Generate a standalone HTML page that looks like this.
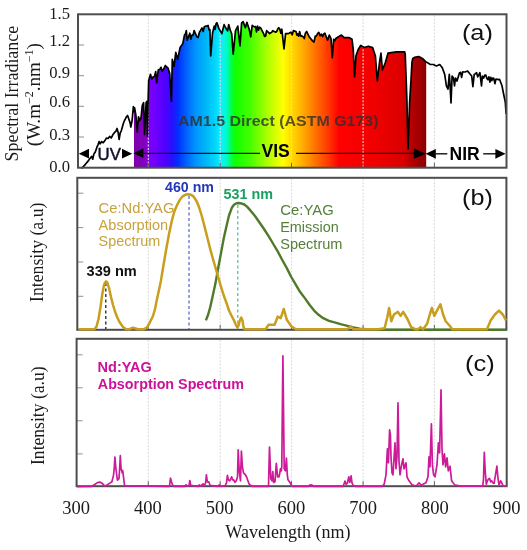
<!DOCTYPE html>
<html><head><meta charset="utf-8"><title>Solar spectrum and YAG spectra</title>
<style>html,body{margin:0;padding:0;background:#fff;overflow:hidden}svg{display:block}</style>
</head><body>
<svg width="527" height="550" viewBox="0 0 527 550">
<defs><linearGradient id="rb" gradientUnits="userSpaceOnUse" x1="134.0" y1="0" x2="426.2" y2="0"><stop offset="0.0000" stop-color="#7e00a8"/><stop offset="0.0428" stop-color="#8200c8"/><stop offset="0.0513" stop-color="#8000fa"/><stop offset="0.0787" stop-color="#6a00ff"/><stop offset="0.1061" stop-color="#5000ff"/><stop offset="0.1300" stop-color="#2810ff"/><stop offset="0.1506" stop-color="#0030ff"/><stop offset="0.1780" stop-color="#0060ff"/><stop offset="0.2122" stop-color="#0096ff"/><stop offset="0.2464" stop-color="#00b6f8"/><stop offset="0.2772" stop-color="#00d6fa"/><stop offset="0.2977" stop-color="#12eeff"/><stop offset="0.3159" stop-color="#00fad0"/><stop offset="0.3296" stop-color="#00ff60"/><stop offset="0.3457" stop-color="#10ff00"/><stop offset="0.3593" stop-color="#1cff00"/><stop offset="0.3970" stop-color="#44ff00"/><stop offset="0.4586" stop-color="#b0ff00"/><stop offset="0.5099" stop-color="#ffff00"/><stop offset="0.5681" stop-color="#ffb800"/><stop offset="0.6297" stop-color="#ff6600"/><stop offset="0.6708" stop-color="#ff3000"/><stop offset="0.7016" stop-color="#ff0000"/><stop offset="0.8248" stop-color="#f00000"/><stop offset="0.9240" stop-color="#da0000"/><stop offset="0.9480" stop-color="#b80000"/><stop offset="1.0000" stop-color="#8c0000"/></linearGradient></defs>
<rect width="527" height="550" fill="#fff"/>
<path d="M134.0,168.0 L134.0,111.7 L134.6,107.8 L135.9,115.5 L137.2,132.0 L138.5,116.8 L139.7,120.6 L141.0,118.0 L142.3,105.3 L143.6,102.7 L144.5,134.6 L145.5,115.5 L146.1,102.7 L146.8,101.5 L147.4,135.9 L148.0,105.0 L148.7,80.4 L150.5,74.3 L151.8,79.1 L153.1,76.9 L154.4,76.6 L155.7,71.6 L156.6,83.0 L158.3,69.9 L159.7,69.5 L161.0,67.3 L162.0,71.4 L163.0,70.0 L164.2,67.8 L165.3,65.5 L166.7,66.8 L168.0,68.1 L169.7,73.4 L171.4,101.3 L172.3,59.4 L174.0,66.4 L175.8,52.4 L177.6,59.4 L180.2,47.2 L181.5,45.5 L182.8,43.7 L184.5,35.0 L185.4,34.0 L186.3,30.6 L187.2,40.2 L189.8,33.2 L190.9,39.1 L192.0,35.0 L193.1,35.3 L194.1,30.6 L196.8,36.7 L198.1,37.6 L199.4,32.3 L200.7,30.1 L202.0,28.0 L203.2,31.4 L204.3,26.8 L205.5,26.2 L206.8,26.2 L208.1,25.4 L209.0,29.8 L209.9,29.7 L210.7,55.9 L212.5,33.2 L214.2,26.2 L215.1,29.4 L216.0,23.8 L216.9,22.7 L217.9,25.5 L218.8,28.4 L219.8,30.1 L220.8,31.9 L221.8,33.7 L224.1,24.6 L225.2,26.8 L226.4,29.0 L227.6,30.8 L228.7,24.6 L230.2,30.0 L231.7,33.7 L233.2,54.2 L235.5,30.7 L236.7,28.4 L237.8,26.1 L240.0,45.9 L241.6,23.1 L243.1,21.6 L245.4,27.7 L246.9,22.3 L249.2,29.2 L250.7,36.8 L252.2,25.4 L253.3,26.1 L254.5,26.9 L255.5,26.6 L256.5,31.8 L257.5,26.1 L258.5,30.1 L259.5,27.2 L260.5,27.7 L263.6,33.7 L264.6,36.4 L265.6,36.0 L266.6,30.7 L267.6,31.7 L268.6,32.7 L269.6,33.7 L270.6,32.7 L271.7,32.4 L272.7,30.7 L273.7,31.2 L274.7,31.7 L275.7,32.2 L276.7,31.6 L277.7,29.2 L278.7,27.7 L279.7,28.8 L280.8,33.2 L281.8,29.2 L284.0,48.9 L285.6,33.7 L286.8,33.7 L288.0,33.7 L289.0,33.2 L289.9,32.7 L290.9,32.2 L292.2,34.8 L293.5,30.6 L294.8,31.1 L296.0,31.5 L296.9,35.1 L297.8,33.9 L298.7,36.2 L299.6,31.5 L300.8,36.1 L301.9,35.9 L303.1,36.7 L304.3,38.5 L305.4,33.2 L306.6,31.5 L307.9,34.1 L309.2,36.7 L310.4,38.2 L311.5,39.6 L312.7,41.1 L314.0,42.0 L315.3,36.0 L316.5,35.8 L317.6,33.5 L318.8,32.3 L320.1,35.8 L321.4,34.1 L322.6,36.6 L323.7,34.0 L324.9,33.2 L327.6,40.2 L329.3,35.0 L331.0,38.5 L332.3,57.7 L333.7,39.3 L334.9,40.7 L336.0,38.2 L337.2,37.6 L341.5,35.0 L344.1,37.6 L349.4,37.6 L352.0,39.3 L353.2,48.9 L354.6,76.9 L356.0,55.9 L358.1,49.8 L360.7,45.4 L364.2,47.5 L368.4,46.2 L372.6,47.6 L375.4,56.0 L377.3,81.1 L379.6,61.6 L381.0,53.2 L382.4,70.0 L385.2,63.0 L388.0,53.2 L396.4,51.8 L404.6,51.8 L405.2,54.0 L406.0,75.0 L406.9,100.0 L407.6,130.0 L408.1,149.0 L408.7,130.0 L409.6,103.0 L411.0,80.0 L412.0,62.0 L412.8,58.5 L414.5,57.4 L418.7,56.5 L422.9,58.8 L425.7,61.6 L426.2,61.9 L426.2,168.0 Z" fill="url(#rb)"/>
<line x1="148.3" y1="15.3" x2="148.3" y2="166.7" stroke="#dcdcdc" stroke-width="1.1" stroke-dasharray="2,1.4"/>
<line x1="148.3" y1="162.7" x2="148.3" y2="167.7" stroke="#666" stroke-width="1"/>
<line x1="220.2" y1="15.3" x2="220.2" y2="166.7" stroke="#dcdcdc" stroke-width="1.1" stroke-dasharray="2,1.4"/>
<line x1="220.2" y1="162.7" x2="220.2" y2="167.7" stroke="#666" stroke-width="1"/>
<line x1="291.5" y1="15.3" x2="291.5" y2="166.7" stroke="#dcdcdc" stroke-width="1.1" stroke-dasharray="2,1.4"/>
<line x1="291.5" y1="162.7" x2="291.5" y2="167.7" stroke="#666" stroke-width="1"/>
<line x1="363.1" y1="15.3" x2="363.1" y2="166.7" stroke="#dcdcdc" stroke-width="1.1" stroke-dasharray="2,1.4"/>
<line x1="363.1" y1="162.7" x2="363.1" y2="167.7" stroke="#666" stroke-width="1"/>
<line x1="434.4" y1="15.3" x2="434.4" y2="166.7" stroke="#dcdcdc" stroke-width="1.1" stroke-dasharray="2,1.4"/>
<line x1="434.4" y1="162.7" x2="434.4" y2="167.7" stroke="#666" stroke-width="1"/>
<line x1="78" y1="137.0" x2="84" y2="137.0" stroke="#909090" stroke-width="1"/>
<line x1="78" y1="106.3" x2="84" y2="106.3" stroke="#909090" stroke-width="1"/>
<line x1="78" y1="75.7" x2="84" y2="75.7" stroke="#909090" stroke-width="1"/>
<line x1="78" y1="45.0" x2="84" y2="45.0" stroke="#909090" stroke-width="1"/>
<path d="M81.5,168.5 L85.4,164.3 L88.5,160.6 L89.6,158.9 L90.6,157.8 L91.7,156.4 L92.8,159.2 L93.8,154.3 L95.4,151.7 L97.0,146.9 L98.0,144.8 L99.1,141.6 L100.2,143.8 L101.7,141.6 L103.3,142.7 L104.9,140.6 L106.5,138.0 L108.1,138.5 L109.6,136.4 L111.2,138.0 L112.8,134.8 L114.4,132.7 L116.0,131.1 L117.0,128.5 L118.1,132.2 L119.1,139.5 L120.2,133.0 L121.3,130.8 L122.5,126.5 L123.5,123.0 L124.5,120.5 L125.5,118.7 L126.4,116.8 L127.6,115.5 L128.9,119.3 L130.2,123.1 L130.8,127.0 L132.1,120.6 L133.4,106.6 L134.0,111.7 L134.6,107.8 L135.9,115.5 L137.2,132.0 L138.5,116.8 L139.7,120.6 L141.0,118.0 L142.3,105.3 L143.6,102.7 L144.5,134.6 L145.5,115.5 L146.1,102.7 L146.8,101.5 L147.4,135.9 L148.0,105.0 L148.7,80.4 L150.5,74.3 L151.8,79.1 L153.1,76.9 L154.4,76.6 L155.7,71.6 L156.6,83.0 L158.3,69.9 L159.7,69.5 L161.0,67.3 L162.0,71.4 L163.0,70.0 L164.2,67.8 L165.3,65.5 L166.7,66.8 L168.0,68.1 L169.7,73.4 L171.4,101.3 L172.3,59.4 L174.0,66.4 L175.8,52.4 L177.6,59.4 L180.2,47.2 L181.5,45.5 L182.8,43.7 L184.5,35.0 L185.4,34.0 L186.3,30.6 L187.2,40.2 L189.8,33.2 L190.9,39.1 L192.0,35.0 L193.1,35.3 L194.1,30.6 L196.8,36.7 L198.1,37.6 L199.4,32.3 L200.7,30.1 L202.0,28.0 L203.2,31.4 L204.3,26.8 L205.5,26.2 L206.8,26.2 L208.1,25.4 L209.0,29.8 L209.9,29.7 L210.7,55.9 L212.5,33.2 L214.2,26.2 L215.1,29.4 L216.0,23.8 L216.9,22.7 L217.9,25.5 L218.8,28.4 L219.8,30.1 L220.8,31.9 L221.8,33.7 L224.1,24.6 L225.2,26.8 L226.4,29.0 L227.6,30.8 L228.7,24.6 L230.2,30.0 L231.7,33.7 L233.2,54.2 L235.5,30.7 L236.7,28.4 L237.8,26.1 L240.0,45.9 L241.6,23.1 L243.1,21.6 L245.4,27.7 L246.9,22.3 L249.2,29.2 L250.7,36.8 L252.2,25.4 L253.3,26.1 L254.5,26.9 L255.5,26.6 L256.5,31.8 L257.5,26.1 L258.5,30.1 L259.5,27.2 L260.5,27.7 L263.6,33.7 L264.6,36.4 L265.6,36.0 L266.6,30.7 L267.6,31.7 L268.6,32.7 L269.6,33.7 L270.6,32.7 L271.7,32.4 L272.7,30.7 L273.7,31.2 L274.7,31.7 L275.7,32.2 L276.7,31.6 L277.7,29.2 L278.7,27.7 L279.7,28.8 L280.8,33.2 L281.8,29.2 L284.0,48.9 L285.6,33.7 L286.8,33.7 L288.0,33.7 L289.0,33.2 L289.9,32.7 L290.9,32.2 L292.2,34.8 L293.5,30.6 L294.8,31.1 L296.0,31.5 L296.9,35.1 L297.8,33.9 L298.7,36.2 L299.6,31.5 L300.8,36.1 L301.9,35.9 L303.1,36.7 L304.3,38.5 L305.4,33.2 L306.6,31.5 L307.9,34.1 L309.2,36.7 L310.4,38.2 L311.5,39.6 L312.7,41.1 L314.0,42.0 L315.3,36.0 L316.5,35.8 L317.6,33.5 L318.8,32.3 L320.1,35.8 L321.4,34.1 L322.6,36.6 L323.7,34.0 L324.9,33.2 L327.6,40.2 L329.3,35.0 L331.0,38.5 L332.3,57.7 L333.7,39.3 L334.9,40.7 L336.0,38.2 L337.2,37.6 L341.5,35.0 L344.1,37.6 L349.4,37.6 L352.0,39.3 L353.2,48.9 L354.6,76.9 L356.0,55.9 L358.1,49.8 L360.7,45.4 L364.2,47.5 L368.4,46.2 L372.6,47.6 L375.4,56.0 L377.3,81.1 L379.6,61.6 L381.0,53.2 L382.4,70.0 L385.2,63.0 L388.0,53.2 L396.4,51.8 L404.6,51.8 L405.2,54.0 L406.0,75.0 L406.9,100.0 L407.6,130.0 L408.1,149.0 L408.7,130.0 L409.6,103.0 L411.0,80.0 L412.0,62.0 L412.8,58.5 L414.5,57.4 L418.7,56.5 L422.9,58.8 L425.7,61.6 L430.0,64.3 L433.3,64.5 L434.4,65.0 L435.4,65.5 L436.5,66.0 L437.6,65.5 L438.7,65.0 L439.8,64.5 L441.1,66.2 L442.3,67.8 L444.7,74.4 L446.4,85.8 L448.0,89.1 L449.3,74.4 L450.0,84.0 L451.0,103.0 L452.1,76.0 L453.5,78.0 L454.5,85.8 L455.5,78.0 L457.0,81.0 L459.5,72.7 L460.6,72.4 L461.6,77.3 L462.7,71.9 L463.9,72.0 L465.0,72.0 L466.3,71.5 L467.6,71.1 L468.8,72.5 L470.0,74.0 L471.7,76.0 L472.9,86.6 L474.2,74.4 L475.4,73.7 L476.6,72.7 L477.7,76.9 L478.8,74.9 L479.9,72.7 L481.5,85.8 L482.4,76.0 L483.6,78.2 L484.8,75.2 L485.8,75.1 L486.9,78.5 L487.9,79.7 L488.9,76.8 L489.9,82.2 L490.9,77.4 L491.8,80.6 L492.8,78.1 L493.8,78.4 L494.9,83.7 L496.0,79.0 L497.1,79.3 L498.3,79.6 L499.5,79.3 L502.0,85.8 L503.6,94.0 L505.3,102.2 L506.1,114.0" fill="none" stroke="#000" stroke-width="1.7" stroke-linejoin="round"/>
<text x="178" y="125.6" style="font-family:'Liberation Sans',Arial,sans-serif;font-weight:bold;font-size:15.2px" fill="#2e2e2e" fill-opacity="0.8" textLength="200.5" lengthAdjust="spacingAndGlyphs">AM1.5 Direct (ASTM G173)</text>
<path d="M78.8,153.7 L89.0,148.79999999999998 L89.0,158.6 Z" fill="#000"/>
<path d="M132.2,153.7 L121.99999999999999,148.79999999999998 L121.99999999999999,158.6 Z" fill="#000"/>
<path d="M133.2,153.2 L143.39999999999998,148.29999999999998 L143.39999999999998,158.1 Z" fill="#000"/>
<line x1="140" y1="153.3" x2="260" y2="153.3" stroke="#111" stroke-width="1.3"/>
<line x1="296" y1="153.4" x2="416" y2="153.4" stroke="#111" stroke-width="1.3"/>
<path d="M425.8,153.7 L413.8,148.45 L413.8,158.95 Z" fill="#000"/>
<path d="M425.6,153.8 L435.8,148.9 L435.8,158.70000000000002 Z" fill="#000"/>
<line x1="433" y1="153.8" x2="447.3" y2="153.8" stroke="#111" stroke-width="1.4"/>
<line x1="483.2" y1="153.8" x2="498" y2="153.8" stroke="#111" stroke-width="1.4"/>
<path d="M505.6,153.8 L495.40000000000003,148.9 L495.40000000000003,158.70000000000002 Z" fill="#000"/>
<text x="97.6" y="160.1" style="font-family:'Liberation Sans',Arial,sans-serif;font-size:16.8px" fill="#10102a" stroke="#10102a" stroke-width="0.45">UV</text>
<text x="261.5" y="157.3" style="font-family:'Liberation Sans',Arial,sans-serif;font-weight:bold;font-size:17.5px" fill="#000">VIS</text>
<text x="449.6" y="159.9" style="font-family:'Liberation Sans',Arial,sans-serif;font-weight:bold;font-size:17.5px" fill="#000">NIR</text>
<text x="461.9" y="40.2" style="font-family:'Liberation Sans',Arial,sans-serif;font-size:22.5px" fill="#111" textLength="31" lengthAdjust="spacingAndGlyphs">(a)</text>
<rect x="78" y="14.3" width="428.5" height="153.39999999999998" fill="none" stroke="#4d4d4d" stroke-width="2"/>
<text x="70" y="172.1" text-anchor="end" style="font-family:'Liberation Serif','Times New Roman',serif;font-size:16.6px" fill="#1a1a1a">0.0</text>
<text x="70" y="139.9" text-anchor="end" style="font-family:'Liberation Serif','Times New Roman',serif;font-size:16.6px" fill="#1a1a1a">0.3</text>
<text x="70" y="107.1" text-anchor="end" style="font-family:'Liberation Serif','Times New Roman',serif;font-size:16.6px" fill="#1a1a1a">0.6</text>
<text x="70" y="78.1" text-anchor="end" style="font-family:'Liberation Serif','Times New Roman',serif;font-size:16.6px" fill="#1a1a1a">0.9</text>
<text x="70" y="46.3" text-anchor="end" style="font-family:'Liberation Serif','Times New Roman',serif;font-size:16.6px" fill="#1a1a1a">1.2</text>
<text x="70" y="18.5" text-anchor="end" style="font-family:'Liberation Serif','Times New Roman',serif;font-size:16.6px" fill="#1a1a1a">1.5</text>
<text transform="translate(17.8,161.4) rotate(-90)" style="font-family:'Liberation Serif','Times New Roman',serif;font-size:18px" fill="#1a1a1a" textLength="135.5" lengthAdjust="spacingAndGlyphs">Spectral Irradiance</text>
<text transform="translate(40,146.2) rotate(-90)" style="font-family:'Liberation Serif','Times New Roman',serif;font-size:18.4px" fill="#1a1a1a" textLength="103" lengthAdjust="spacingAndGlyphs">(W.m<tspan dy="-7.5" font-size="11.5">−2</tspan><tspan dy="7.5">.nm</tspan><tspan dy="-7.5" font-size="11.5">−1</tspan><tspan dy="7.5">)</tspan></text>
<line x1="148.3" y1="178.8" x2="148.3" y2="328.8" stroke="#dcdcdc" stroke-width="1.1" stroke-dasharray="2,1.4"/>
<line x1="148.3" y1="324.8" x2="148.3" y2="329.8" stroke="#666" stroke-width="1"/>
<line x1="220.2" y1="178.8" x2="220.2" y2="328.8" stroke="#dcdcdc" stroke-width="1.1" stroke-dasharray="2,1.4"/>
<line x1="220.2" y1="324.8" x2="220.2" y2="329.8" stroke="#666" stroke-width="1"/>
<line x1="291.5" y1="178.8" x2="291.5" y2="328.8" stroke="#dcdcdc" stroke-width="1.1" stroke-dasharray="2,1.4"/>
<line x1="291.5" y1="324.8" x2="291.5" y2="329.8" stroke="#666" stroke-width="1"/>
<line x1="363.1" y1="178.8" x2="363.1" y2="328.8" stroke="#dcdcdc" stroke-width="1.1" stroke-dasharray="2,1.4"/>
<line x1="363.1" y1="324.8" x2="363.1" y2="329.8" stroke="#666" stroke-width="1"/>
<line x1="434.4" y1="178.8" x2="434.4" y2="328.8" stroke="#dcdcdc" stroke-width="1.1" stroke-dasharray="2,1.4"/>
<line x1="434.4" y1="324.8" x2="434.4" y2="329.8" stroke="#666" stroke-width="1"/>
<line x1="77.3" y1="193.2" x2="83.3" y2="193.2" stroke="#909090" stroke-width="1"/>
<line x1="77.3" y1="227.6" x2="83.3" y2="227.6" stroke="#909090" stroke-width="1"/>
<line x1="77.3" y1="262" x2="83.3" y2="262" stroke="#909090" stroke-width="1"/>
<line x1="77.3" y1="296.3" x2="83.3" y2="296.3" stroke="#909090" stroke-width="1"/>
<rect x="77.3" y="177.8" width="429.09999999999997" height="152.0" fill="none" stroke="#4d4d4d" stroke-width="2"/>
<line x1="105.8" y1="283" x2="105.8" y2="329" stroke="#222" stroke-width="1.3" stroke-dasharray="3,2.5"/>
<line x1="189" y1="196" x2="189" y2="329" stroke="#4455c0" stroke-width="1.3" stroke-dasharray="3,2.5" stroke-opacity="0.85"/>
<line x1="237.8" y1="205" x2="237.8" y2="329" stroke="#3aa878" stroke-width="1.2" stroke-dasharray="3,2.5" stroke-opacity="0.85"/>
<path d="M205.9,320.4 L208.0,315.0 L210.0,308.2 L212.7,296.0 L215.4,283.6 L218.2,268.0 L220.9,253.6 L223.6,239.0 L226.4,226.4 L229.0,215.5 L231.8,207.8 L234.0,204.8 L236.0,203.4 L238.2,203.0 L241.0,203.3 L244.3,204.5 L247.0,206.6 L250.4,210.4 L255.0,216.0 L259.5,222.5 L264.0,229.0 L268.6,236.2 L273.0,243.5 L277.7,251.4 L282.0,259.5 L286.8,268.1 L291.0,276.5 L295.9,284.8 L300.0,291.8 L305.0,298.4 L309.5,304.8 L314.1,310.6 L318.6,314.8 L323.2,318.2 L329.0,320.8 L335.4,322.7 L341.5,324.4 L347.5,325.8 L353.5,327.3 L359.6,328.6 L370.0,329.4 L380.0,329.7 L506.0,329.7" fill="none" stroke="#4f7a2a" stroke-width="2.4" stroke-linejoin="round"/>
<path d="M78.5,329.2 L90.0,329.2 L94.4,329.2 L96.5,326.6 L98.5,319.0 L100.5,307.0 L102.3,294.0 L103.8,286.0 L105.0,282.5 L106.1,281.3 L107.3,282.5 L109.0,288.0 L111.0,297.0 L113.0,305.0 L115.0,311.5 L117.5,318.0 L120.0,322.8 L123.0,326.9 L126.0,329.2 L129.0,329.2 L133.1,327.8 L138.0,329.2 L144.0,329.2 L146.8,327.6 L149.0,324.0 L151.0,320.0 L153.0,316.0 L155.0,309.0 L157.0,299.0 L159.0,290.0 L160.9,280.9 L163.5,265.0 L166.4,248.2 L169.0,234.0 L171.8,220.9 L174.5,211.0 L177.3,204.5 L180.0,199.5 L182.7,196.3 L185.5,194.7 L188.2,194.3 L191.0,194.8 L193.6,196.6 L196.5,201.0 L199.1,207.3 L201.8,216.0 L204.5,226.4 L207.2,237.0 L210.0,248.2 L212.7,258.0 L215.4,267.3 L218.2,277.0 L220.9,286.4 L223.6,295.0 L226.4,302.7 L229.0,310.5 L231.8,316.2 L234.0,320.5 L236.0,325.1 L237.3,327.4 L238.5,325.6 L239.8,320.5 L241.2,317.6 L242.5,320.5 L243.4,326.6 L244.5,329.2 L265.5,329.2 L268.6,324.8 L274.6,324.8 L277.7,316.6 L280.7,318.2 L283.8,309.0 L286.8,319.7 L291.3,326.4 L295.9,329.2 L347.5,329.2 L350.5,326.4 L353.6,329.2 L378.0,329.2 L384.6,328.2 L387.3,317.2 L389.1,307.9 L391.3,321.2 L393.9,314.5 L397.9,311.9 L400.6,315.9 L403.2,311.9 L407.2,318.5 L411.2,327.1 L415.2,329.2 L418.0,329.2 L420.5,327.1 L423.1,329.2 L427.1,323.8 L429.8,314.5 L431.9,307.9 L434.3,315.9 L437.7,309.2 L440.4,304.4 L443.1,314.5 L445.7,321.2 L449.7,325.8 L452.4,329.2 L486.9,329.2 L490.9,319.9 L494.9,314.5 L498.9,310.6 L502.8,314.5 L506.0,320.5" fill="none" stroke="#c99e1c" stroke-width="2.5" stroke-linejoin="round"/>
<text x="165" y="192" style="font-family:'Liberation Sans',Arial,sans-serif;font-weight:bold;font-size:14.4px" fill="#2438b8" textLength="49" lengthAdjust="spacingAndGlyphs">460 nm</text>
<text x="223.6" y="199.3" style="font-family:'Liberation Sans',Arial,sans-serif;font-weight:bold;font-size:14.4px" fill="#18a060" textLength="49.5" lengthAdjust="spacingAndGlyphs">531 nm</text>
<text x="86.6" y="275.9" style="font-family:'Liberation Sans',Arial,sans-serif;font-weight:bold;font-size:13.8px" fill="#111" textLength="50.2" lengthAdjust="spacingAndGlyphs">339 nm</text>
<text x="98.6" y="213.1" style="font-family:'Liberation Sans',Arial,sans-serif;font-size:15.2px" fill="#c8a23a" textLength="75.8" lengthAdjust="spacingAndGlyphs">Ce:Nd:YAG</text>
<text x="98.6" y="229.8" style="font-family:'Liberation Sans',Arial,sans-serif;font-size:15.2px" fill="#c8a23a" textLength="69.6" lengthAdjust="spacingAndGlyphs">Absorption</text>
<text x="98.6" y="246.3" style="font-family:'Liberation Sans',Arial,sans-serif;font-size:15.2px" fill="#c8a23a" textLength="61.6" lengthAdjust="spacingAndGlyphs">Spectrum</text>
<text x="280.2" y="215.1" style="font-family:'Liberation Sans',Arial,sans-serif;font-size:15.2px" fill="#55803a" textLength="53.6" lengthAdjust="spacingAndGlyphs">Ce:YAG</text>
<text x="280.2" y="232" style="font-family:'Liberation Sans',Arial,sans-serif;font-size:15.2px" fill="#55803a" textLength="58.6" lengthAdjust="spacingAndGlyphs">Emission</text>
<text x="280.2" y="248.6" style="font-family:'Liberation Sans',Arial,sans-serif;font-size:15.2px" fill="#55803a" textLength="62.3" lengthAdjust="spacingAndGlyphs">Spectrum</text>
<text x="462" y="204.7" style="font-family:'Liberation Sans',Arial,sans-serif;font-size:22.5px" fill="#111" textLength="30.8" lengthAdjust="spacingAndGlyphs">(b)</text>
<text transform="translate(43.2,302) rotate(-90)" style="font-family:'Liberation Serif','Times New Roman',serif;font-size:18px" fill="#1a1a1a" textLength="99.4" lengthAdjust="spacingAndGlyphs">Intensity (a.u)</text>
<line x1="148.3" y1="339.8" x2="148.3" y2="485.2" stroke="#dcdcdc" stroke-width="1.1" stroke-dasharray="2,1.4"/>
<line x1="148.3" y1="481.2" x2="148.3" y2="486.2" stroke="#666" stroke-width="1"/>
<line x1="220.2" y1="339.8" x2="220.2" y2="485.2" stroke="#dcdcdc" stroke-width="1.1" stroke-dasharray="2,1.4"/>
<line x1="220.2" y1="481.2" x2="220.2" y2="486.2" stroke="#666" stroke-width="1"/>
<line x1="291.5" y1="339.8" x2="291.5" y2="485.2" stroke="#dcdcdc" stroke-width="1.1" stroke-dasharray="2,1.4"/>
<line x1="291.5" y1="481.2" x2="291.5" y2="486.2" stroke="#666" stroke-width="1"/>
<line x1="363.1" y1="339.8" x2="363.1" y2="485.2" stroke="#dcdcdc" stroke-width="1.1" stroke-dasharray="2,1.4"/>
<line x1="363.1" y1="481.2" x2="363.1" y2="486.2" stroke="#666" stroke-width="1"/>
<line x1="434.4" y1="339.8" x2="434.4" y2="485.2" stroke="#dcdcdc" stroke-width="1.1" stroke-dasharray="2,1.4"/>
<line x1="434.4" y1="481.2" x2="434.4" y2="486.2" stroke="#666" stroke-width="1"/>
<line x1="76.6" y1="354.8" x2="82.6" y2="354.8" stroke="#909090" stroke-width="1"/>
<line x1="76.6" y1="387.8" x2="82.6" y2="387.8" stroke="#909090" stroke-width="1"/>
<line x1="76.6" y1="420.8" x2="82.6" y2="420.8" stroke="#909090" stroke-width="1"/>
<line x1="76.6" y1="453.9" x2="82.6" y2="453.9" stroke="#909090" stroke-width="1"/>
<rect x="76.6" y="338.8" width="430.1" height="147.39999999999998" fill="none" stroke="#4d4d4d" stroke-width="2"/>
<path d="M77.0,486.6 L92.0,486.3 L95.1,484.2 L97.5,482.6 L99.9,482.1 L102.3,483.4 L104.7,486.1 L107.1,485.0 L109.5,483.4 L111.9,481.8 L113.5,475.4 L114.3,467.5 L114.9,457.1 L115.8,467.5 L117.4,480.2 L119.0,478.6 L119.8,465.9 L120.3,455.5 L121.1,469.1 L121.7,470.6 L122.2,472.8 L122.7,470.6 L123.5,476.8 L124.6,485.8 L169.5,486.3 L170.5,478.2 L171.5,481.8 L172.5,484.8 L174.0,486.3 L185.0,486.3 L186.0,484.8 L187.0,485.8 L189.0,485.8 L189.8,480.5 L190.8,485.3 L198.0,486.3 L199.3,484.8 L200.5,486.1 L203.1,483.8 L204.5,485.8 L205.6,482.8 L206.4,474.8 L207.3,481.8 L208.8,481.8 L210.0,485.3 L218.0,486.3 L219.3,484.8 L220.5,486.3 L225.0,485.8 L226.5,482.8 L227.4,475.4 L228.4,479.8 L229.7,480.8 L230.7,478.8 L231.6,476.8 L232.6,479.8 L233.5,479.8 L235.0,482.3 L236.3,480.8 L237.5,476.8 L238.2,449.8 L239.2,470.8 L240.5,480.8 L241.4,451.2 L242.4,466.8 L243.5,472.8 L245.0,474.3 L246.5,476.8 L249.0,483.8 L252.0,486.3 L268.5,486.3 L269.5,447.1 L270.8,478.8 L272.0,480.8 L272.8,471.6 L273.6,482.5 L275.0,481.8 L276.3,463.4 L277.6,476.8 L279.0,476.8 L279.6,474.3 L280.4,468.8 L281.3,470.8 L281.8,466.1 L282.9,355.8 L284.2,468.8 L285.4,470.8 L286.4,458.0 L287.3,474.8 L288.0,479.8 L290.0,482.5 L292.0,486.3 L309.0,486.3 L310.0,484.8 L311.0,486.3 L311.7,484.8 L313.0,486.3 L343.0,486.3 L344.0,483.8 L345.0,481.1 L346.0,484.3 L347.5,482.8 L348.8,476.8 L349.8,482.3 L350.5,478.8 L351.1,475.8 L352.0,482.8 L353.5,485.8 L355.0,486.3 L382.0,486.3 L384.0,484.8 L386.0,474.8 L387.4,448.8 L388.4,462.8 L389.6,429.8 L390.4,434.8 L391.0,456.8 L392.0,472.8 L393.0,474.8 L395.0,442.8 L396.0,468.8 L397.0,456.8 L398.0,402.8 L399.0,460.8 L400.0,474.8 L401.6,464.8 L403.0,458.8 L404.0,468.8 L406.0,462.8 L407.0,476.8 L409.0,480.8 L412.0,484.8 L415.0,485.8 L417.0,485.3 L419.0,482.8 L421.0,484.8 L422.0,484.8 L426.0,482.8 L428.0,476.8 L429.0,456.8 L430.0,466.8 L431.4,423.8 L432.4,464.8 L433.6,474.8 L435.0,476.8 L437.0,464.8 L438.4,442.8 L439.6,452.8 L441.0,389.8 L442.0,448.8 L443.0,464.8 L444.4,453.8 L445.7,466.8 L447.0,457.8 L448.3,470.8 L450.0,466.2 L451.6,480.8 L453.0,482.8 L455.0,485.0 L457.0,485.3 L460.0,486.1 L482.7,486.1 L483.5,479.3 L484.3,452.3 L485.1,469.5 L486.3,484.2 L487.4,480.8 L488.4,479.3 L489.6,478.5 L490.6,481.8 L491.7,480.8 L492.8,482.8 L494.1,483.4 L495.8,472.8 L496.9,466.2 L497.9,477.6 L499.0,485.0 L500.7,480.8 L501.8,482.8 L503.1,485.8 L506.4,486.1" fill="none" stroke="#cc1a99" stroke-width="1.7" stroke-linejoin="round"/>
<text x="97.6" y="371.5" style="font-family:'Liberation Sans',Arial,sans-serif;font-weight:bold;font-size:14px" fill="#cc1199" textLength="54.3" lengthAdjust="spacingAndGlyphs">Nd:YAG</text>
<text x="97.8" y="389" style="font-family:'Liberation Sans',Arial,sans-serif;font-weight:bold;font-size:14px" fill="#cc1199" textLength="146.3" lengthAdjust="spacingAndGlyphs">Absorption Spectrum</text>
<text x="465.1" y="371" style="font-family:'Liberation Sans',Arial,sans-serif;font-size:22.5px" fill="#111" textLength="29.8" lengthAdjust="spacingAndGlyphs">(c)</text>
<text transform="translate(43.6,465) rotate(-90)" style="font-family:'Liberation Serif','Times New Roman',serif;font-size:18px" fill="#1a1a1a" textLength="98.6" lengthAdjust="spacingAndGlyphs">Intensity (a.u)</text>
<text x="76.2" y="513.5" text-anchor="middle" style="font-family:'Liberation Serif','Times New Roman',serif;font-size:18.5px" fill="#1a1a1a">300</text>
<text x="147.9" y="513.5" text-anchor="middle" style="font-family:'Liberation Serif','Times New Roman',serif;font-size:18.5px" fill="#1a1a1a">400</text>
<text x="219.7" y="513.5" text-anchor="middle" style="font-family:'Liberation Serif','Times New Roman',serif;font-size:18.5px" fill="#1a1a1a">500</text>
<text x="291.4" y="513.5" text-anchor="middle" style="font-family:'Liberation Serif','Times New Roman',serif;font-size:18.5px" fill="#1a1a1a">600</text>
<text x="363.2" y="513.5" text-anchor="middle" style="font-family:'Liberation Serif','Times New Roman',serif;font-size:18.5px" fill="#1a1a1a">700</text>
<text x="434.9" y="513.5" text-anchor="middle" style="font-family:'Liberation Serif','Times New Roman',serif;font-size:18.5px" fill="#1a1a1a">800</text>
<text x="506.6" y="513.5" text-anchor="middle" style="font-family:'Liberation Serif','Times New Roman',serif;font-size:18.5px" fill="#1a1a1a">900</text>
<text x="225.3" y="538.4" style="font-family:'Liberation Serif','Times New Roman',serif;font-size:18.3px" fill="#1a1a1a" textLength="125.3" lengthAdjust="spacingAndGlyphs">Wavelength (nm)</text>
</svg>
</body></html>
